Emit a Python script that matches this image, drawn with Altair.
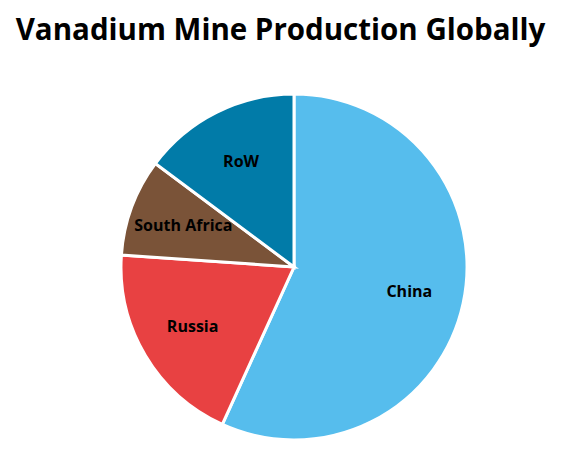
import altair as alt
import pandas as pd

countries = ["China", "Russia", "South Africa", "RoW"]
shares = [56.8, 19.3, 9.1, 14.8]
colors = ["#56BDED", "#E84142", "#7A5338", "#017BA8"]

df = pd.DataFrame({"country": countries, "share": shares, "order": list(range(len(countries)))})

base = alt.Chart(df).encode(
    theta=alt.Theta("share:Q", stack=True),
    order=alt.Order("order:O"),
)

pie = base.mark_arc(radius=173, stroke="white", strokeWidth=3).encode(
    color=alt.Color("country:N", scale=alt.Scale(domain=countries, range=colors), legend=None),
    x=alt.value(286),
    y=alt.value(211),
)

labels = base.mark_text(radius=118, font="Open Sans", fontSize=16, fontWeight="bold", color="black").encode(
    text="country:N",
    x=alt.value(286),
    y=alt.value(211),
)

chart = (pie + labels).properties(
    width=545,
    height=376,
    padding={"top": 7, "left": 0, "right": 0, "bottom": 0},
    title=alt.TitleParams(
        "Vanadium Mine Production Globally",
        font="Open Sans",
        fontSize=29.5,
        fontWeight="bold",
        color="black",
        anchor="middle",
        offset=10,
    ),
).configure_view(stroke=None)

chart.save("out.html", embed_options={"renderer": "svg", "actions": False})
